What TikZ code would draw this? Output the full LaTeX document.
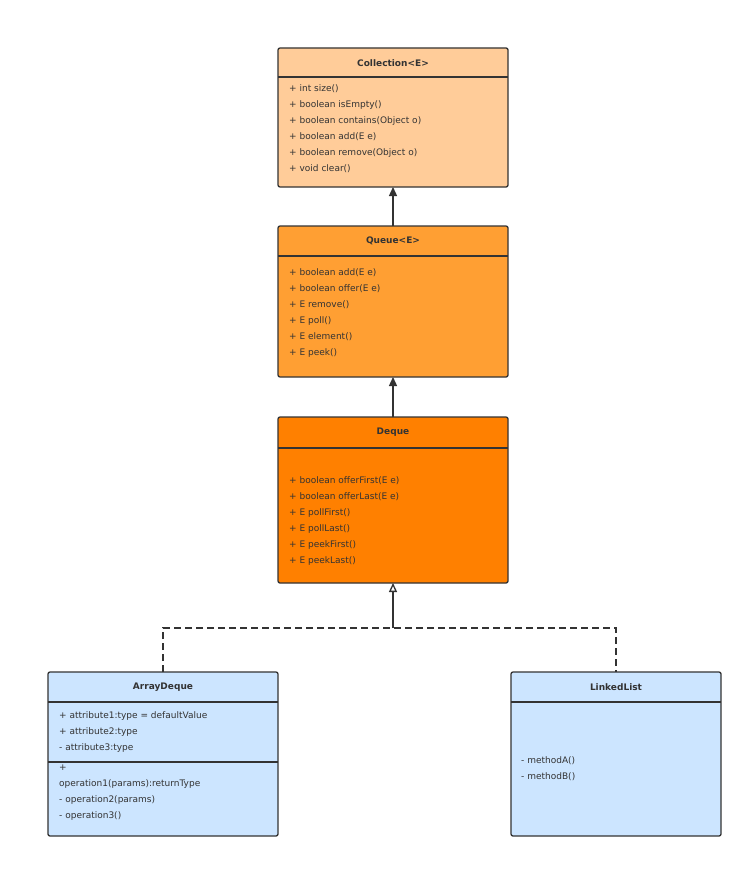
\documentclass[tikz,border=0pt]{standalone}
\usepackage{fontspec}
\setmainfont{DejaVu Sans}
\usetikzlibrary{arrows.meta}
\definecolor{c1}{HTML}{FFCC99}
\definecolor{c2}{HTML}{FF9F33}
\definecolor{c3}{HTML}{FF8000}
\definecolor{cb}{HTML}{CCE5FF}
\definecolor{ln}{HTML}{333333}
\begin{document}
\begin{tikzpicture}[x=1pt,y=-1pt,
  box/.style={draw=ln,line width=1.3pt,rounded corners=2pt},
  sep/.style={draw=ln,line width=1.1pt},
  hd/.style={font=\fontsize{9}{10}\selectfont\bfseries,text=ln},
  tx/.style={anchor=west,font=\fontsize{9}{10}\selectfont,text=ln,inner sep=0pt},
  conn/.style={draw=ln,line width=1.3pt}]
\useasboundingbox (0,0) rectangle (753,869);
% Collection
\path[box,fill=c1] (278,48) rectangle (508,187);
\draw[sep] (278,77) -- (508,77);
\node[hd] (col) at (393,63) {Collection<E>};
\foreach \t [count=\i from 0] in {+ int size(),+ boolean isEmpty(),+ boolean contains(Object o),+ boolean add(E e),+ boolean remove(Object o),+ void clear()}
  \node[tx] (cl\i) at (289,89+16*\i) {\t};
\coordinate (colb) at (393,187);
% Queue
\path[box,fill=c2] (278,226) rectangle (508,377);
\draw[sep] (278,256) -- (508,256);
\node[hd] (que) at (393,241) {Queue<E>};
\foreach \t [count=\i from 0] in {+ boolean add(E e),+ boolean offer(E e),+ E remove(),+ E poll(),+ E element(),+ E peek()}
  \node[tx] (ql\i) at (289,273+16*\i) {\t};
\coordinate (quet) at (393,226);
\coordinate (queb) at (393,377);
% Deque
\path[box,fill=c3] (278,417) rectangle (508,583);
\draw[sep] (278,448) -- (508,448);
\node[hd] (deq) at (393,432) {Deque};
\foreach \t [count=\i from 0] in {+ boolean offerFirst(E e),+ boolean offerLast(E e),+ E pollFirst(),+ E pollLast(),+ E peekFirst(),+ E peekLast()}
  \node[tx] (dl\i) at (289,481+16*\i) {\t};
\coordinate (deqt) at (393,417);
\coordinate (deqb) at (393,583);
% ArrayDeque
\path[box,fill=cb] (48,672) rectangle (278,836);
\draw[sep] (48,702) -- (278,702);
\draw[sep] (48,762) -- (278,762);
\node[hd] (arr) at (163,687) {ArrayDeque};
\foreach \t [count=\i from 0] in {+ attribute1:type = defaultValue,+ attribute2:type,- attribute3:type,+,operation1(params):returnType,- operation2(params),- operation3()}
  \node[tx] (al\i) at (59,{\i<3 ? 716+16*\i : 720+16*\i}) {\t};
\coordinate (arrt) at (163,672);
% LinkedList
\path[box,fill=cb] (511,672) rectangle (721,836);
\draw[sep] (511,702) -- (721,702);
\node[hd] (lnk) at (616,687) {LinkedList};
\node[tx] (ll0) at (521,761) {- methodA()};
\node[tx] (ll1) at (521,777) {- methodB()};
\coordinate (lnkt) at (616,672);
% connectors
\draw[conn,-{Triangle[length=9pt,width=8pt]}] (quet) -- (colb);
\draw[conn,-{Triangle[length=9pt,width=8pt]}] (deqt) -- (queb);
\coordinate (j) at (393,628);
\coordinate (ja) at (163,628);
\coordinate (jl) at (616,628);
\draw[conn,-{Triangle[open,length=9pt,width=8pt,fill=white]}] (j) -- (deqb);
\draw[conn,dash pattern=on 7pt off 4pt] (arrt) -- (ja) -- (jl) -- (lnkt);
\end{tikzpicture}
\end{document}
